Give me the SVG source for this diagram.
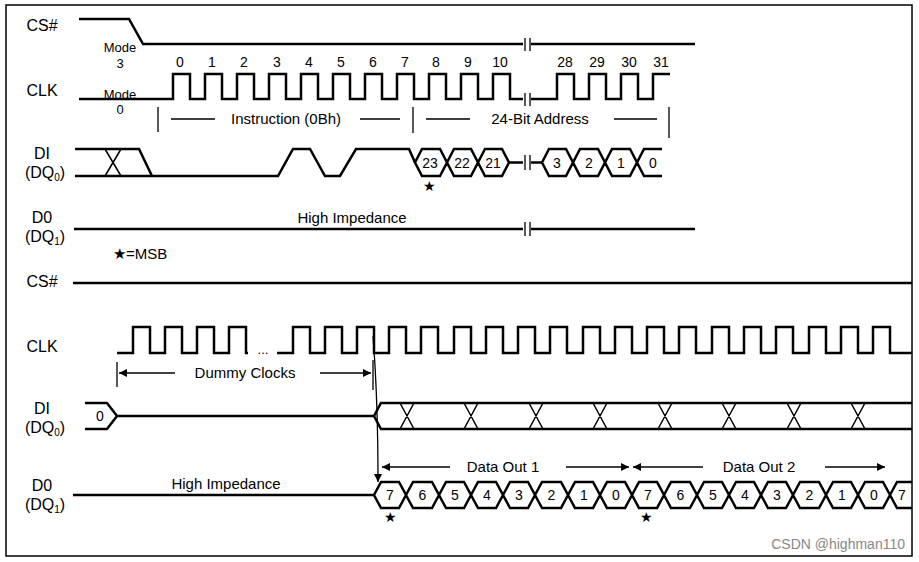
<svg xmlns="http://www.w3.org/2000/svg" width="919" height="562" viewBox="0 0 919 562">
<style>
.sig{fill:none;stroke:#000;stroke-width:2.5;stroke-linejoin:miter}
.thin{fill:none;stroke:#000;stroke-width:1.5}
.ln{fill:none;stroke:#000;stroke-width:1.3}
text{font-family:"Liberation Sans",Arial,sans-serif;fill:#000}
.lb{font-size:16px;text-anchor:middle}
.n{font-size:14px;text-anchor:middle}
.m{font-size:13px;text-anchor:middle}
.t{font-size:15px;text-anchor:middle}
</style>
<defs>
<marker id="ah" viewBox="0 0 10 10" refX="10" refY="5" markerWidth="11" markerHeight="8" markerUnits="userSpaceOnUse" orient="auto-start-reverse">
<path d="M0,0 L10,5 L0,10 Z" fill="#000"/>
</marker>
</defs>
<rect x="6" y="5" width="906" height="551" fill="#fff" stroke="#000" stroke-width="1.5"/>

<g id="labels">
<text class="lb" x="42" y="31">CS#</text>
<text class="lb" x="42" y="96">CLK</text>
<text class="lb" x="42" y="159">DI</text>
<text class="lb" x="45" y="178">(DQ<tspan font-size="10" dy="3">0</tspan><tspan dy="-3">)</tspan></text>
<text class="lb" x="42" y="223">D0</text>
<text class="lb" x="45" y="242">(DQ<tspan font-size="10" dy="3">1</tspan><tspan dy="-3">)</tspan></text>
<text x="113" y="259" font-size="15">★=MSB</text>
<text class="lb" x="42" y="287">CS#</text>
<text class="lb" x="42" y="352">CLK</text>
<text class="lb" x="42" y="414">DI</text>
<text class="lb" x="45" y="433">(DQ<tspan font-size="10" dy="3">0</tspan><tspan dy="-3">)</tspan></text>
<text class="lb" x="42" y="491">D0</text>
<text class="lb" x="45" y="510">(DQ<tspan font-size="10" dy="3">1</tspan><tspan dy="-3">)</tspan></text>
<text class="m" x="120" y="52">Mode</text>
<text class="m" x="120" y="68">3</text>
<text class="m" x="120" y="99">Mode</text>
<text class="m" x="120" y="114">0</text>
</g>

<g id="cs-top">
<path class="sig" d="M79,19 H129 L143,44 H523 M531,44 H695"/>
<path class="ln" d="M525,38 V51 M530,38 V51"/>
</g>

<g id="clk-top">
<path class="sig" d="M79,99 H173 V74 H190 V99 H205 V74 H222 V99 H237 V74 H254 V99 H269 V74 H286 V99 H301 V74 H318 V99 H333 V74 H350 V99 H365 V74 H382 V99 H397 V74 H414 V99 H429 V74 H446 V99 H461 V74 H478 V99 H493 V74 H510 V99 H523 M531,99 H557 V74 H574 V99 H589 V74 H606 V99 H621 V74 H638 V99 H653 V74 H670"/>
<path class="ln" d="M525,93 V106 M530,93 V106"/>
<g class="n">
<text x="180" y="67">0</text><text x="212" y="67">1</text><text x="244" y="67">2</text><text x="277" y="67">3</text><text x="309" y="67">4</text><text x="341" y="67">5</text><text x="373" y="67">6</text><text x="405" y="67">7</text><text x="436" y="67">8</text><text x="468" y="67">9</text><text x="500" y="67">10</text><text x="565" y="67">28</text><text x="597" y="67">29</text><text x="629" y="67">30</text><text x="661" y="67">31</text>
</g>
</g>

<g id="brackets-top">
<path class="ln" d="M158,107 V132 M413,107 V133 M669,107 V138 M171,119 H215 M360,119 H400 M426,119 H470 M614,119 H657"/>
<text class="t" x="286" y="124">Instruction (0Bh)</text>
<text class="t" x="540" y="124">24-Bit Address</text>
</g>

<g id="di-top">
<path class="sig" d="M75,149 H139 L152,176 M75,176 H278 L293,149 H310 L325,176 H340 L356,149 H409 L415,162.5"/>
<path class="thin" d="M105,149 L121,176 M121,149 L105,176"/>
<path class="sig" d="M415,162.5 L422,149 H440 L447,162.5 L440,176 H422 Z M447,162.5 L454,149 H471 L478,162.5 L471,176 H454 Z M478,162.5 L485,149 H502 L509,162.5 L502,176 H485 Z M509,162.5 H523 M531,162.5 H542 M542,162.5 L549,149 H566 L573,162.5 L566,176 H549 Z M573,162.5 L580,149 H598 L605,162.5 L598,176 H580 Z M605,162.5 L612,149 H630 L637,162.5 L630,176 H612 Z M637,162.5 L644,149 H662 M637,162.5 L644,176 H662"/>
<path class="ln" d="M525,155 V170 M530,155 V170"/>
<g class="n">
<text x="430" y="167.5">23</text><text x="462" y="167.5">22</text><text x="493" y="167.5">21</text><text x="557" y="167.5">3</text><text x="589" y="167.5">2</text><text x="621" y="167.5">1</text><text x="653" y="167.5">0</text>
</g>
<text class="n" x="429" y="191" font-size="13">★</text>
</g>

<g id="d0-top">
<path class="sig" d="M74,229 H523 M531,229 H695"/>
<path class="ln" d="M525,222 V236 M530,222 V236"/>
<text class="t" x="352" y="223">High Impedance</text>
</g>

<g id="cs-bottom">
<path class="sig" d="M73,283 H912"/>
</g>

<g id="clk-bottom">
<path class="sig" d="M117,353 H133 V327 H150 V353 H165 V327 H182 V353 H197 V327 H214 V353 H229 V327 H246 V353 H248 M277,353 H293 V327 H310 V353 H325 V327 H342 V353 H357 V327 H374 V353 H389 V327 H406 V353 H421 V327 H438 V353 H454 V327 H471 V353 H486 V327 H503 V353 H518 V327 H535 V353 H550 V327 H567 V353 H583 V327 H600 V353 H615 V327 H632 V353 H647 V327 H664 V353 H679 V327 H696 V353 H712 V327 H729 V353 H744 V327 H761 V353 H776 V327 H793 V353 H809 V327 H826 V353 H841 V327 H858 V353 H873 V327 H890 V353 H912"/>
<text x="263" y="354" font-size="13" text-anchor="middle">...</text>
</g>

<g id="dummy">
<path class="ln" d="M117,362 V387 M373,360 V390"/>
<path class="ln" d="M175,373 H119" marker-end="url(#ah)"/>
<path class="ln" d="M320,373 H371" marker-end="url(#ah)"/>
<text class="t" x="245" y="378">Dummy Clocks</text>
</g>

<g id="di-bottom">
<path class="sig" d="M85,403 H107 L117,416 L107,429 H85 M117,416 H374 L381,403 H912 M374,416 L381,429 H912"/>
<text class="n" x="100" y="421">0</text>
<path class="thin" d="M400,403 L414,429 M414,403 L400,429 M464,403 L478,429 M478,403 L464,429 M529,403 L543,429 M543,403 L529,429 M593,403 L607,429 M607,403 L593,429 M658,403 L672,429 M672,403 L658,429 M722,403 L736,429 M736,403 L722,429 M787,403 L801,429 M801,403 L787,429 M851,403 L865,429 M865,403 L851,429"/>
</g>

<g id="d0-bottom">
<path class="sig" d="M73,495 H374"/>
<text class="t" x="226" y="489">High Impedance</text>
<path class="sig" d="M374,495 L381,482 H399 L406,495 L399,508 H381 Z M406,495 L413,482 H432 L439,495 L432,508 H413 Z M439,495 L446,482 H464 L471,495 L464,508 H446 Z M471,495 L478,482 H496 L503,495 L496,508 H478 Z M503,495 L510,482 H528 L535,495 L528,508 H510 Z M535,495 L542,482 H561 L568,495 L561,508 H542 Z M568,495 L575,482 H593 L600,495 L593,508 H575 Z M600,495 L607,482 H625 L632,495 L625,508 H607 Z M632,495 L639,482 H657 L664,495 L657,508 H639 Z M664,495 L671,482 H690 L697,495 L690,508 H671 Z M697,495 L704,482 H722 L729,495 L722,508 H704 Z M729,495 L736,482 H754 L761,495 L754,508 H736 Z M761,495 L768,482 H786 L793,495 L786,508 H768 Z M793,495 L800,482 H819 L826,495 L819,508 H800 Z M826,495 L833,482 H851 L858,495 L851,508 H833 Z M858,495 L865,482 H883 L890,495 L883,508 H865 Z M890,495 L897,482 H912 M890,495 L897,508 H912"/>
<g class="n">
<text x="390" y="500">7</text><text x="422.5" y="500">6</text><text x="455" y="500">5</text><text x="487" y="500">4</text><text x="519" y="500">3</text><text x="551.5" y="500">2</text><text x="584" y="500">1</text><text x="616" y="500">0</text><text x="648" y="500">7</text><text x="680.5" y="500">6</text><text x="713" y="500">5</text><text x="745" y="500">4</text><text x="777" y="500">3</text><text x="809.5" y="500">2</text><text x="842" y="500">1</text><text x="874" y="500">0</text><text x="902" y="500">7</text>
</g>
<text class="n" x="390" y="522" font-size="13">★</text>
<text class="n" x="646" y="522" font-size="13">★</text>
</g>

<g id="connectors">
<path class="ln" d="M373,336 Q378,400 378,482" marker-end="url(#ah)"/>
<path class="ln" d="M450,467 H382" marker-end="url(#ah)"/>
<path class="ln" d="M566,467 H629" marker-end="url(#ah)"/>
<path class="ln" d="M703,467 H633" marker-end="url(#ah)"/>
<path class="ln" d="M825,467 H885" marker-end="url(#ah)"/>
<text class="t" x="503" y="472">Data Out 1</text>
<text class="t" x="759" y="472">Data Out 2</text>
</g>

<text x="905" y="549" font-size="14" text-anchor="end" style="fill:#888">CSDN @highman110</text>
</svg>
